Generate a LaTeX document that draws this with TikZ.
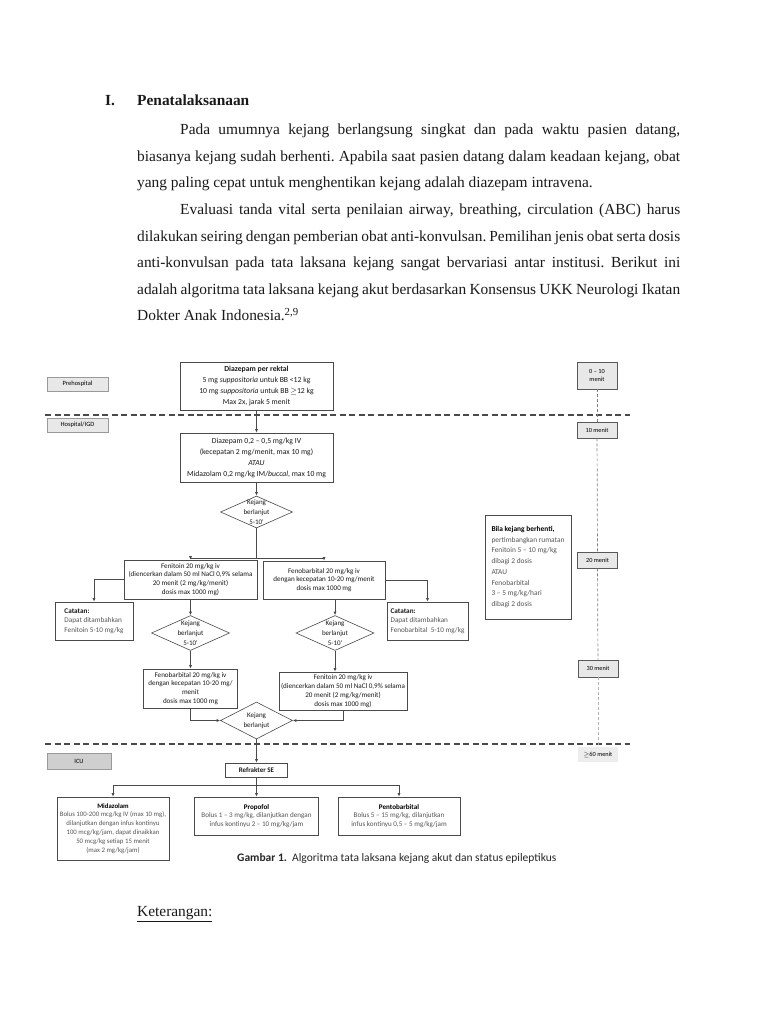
\documentclass[tikz,border=0pt]{standalone}
\usepackage{fontspec}
\setmainfont{Liberation Serif}
\newfontfamily\fc{Carlito}
\usetikzlibrary{shapes.geometric,arrows.meta}
\definecolor{lnc}{HTML}{4A4A4A}
\definecolor{tagfill}{HTML}{E8E8E8}
\definecolor{icufill}{HTML}{CFCFCF}
\definecolor{txtgray}{HTML}{555555}
\frenchspacing

\begin{document}
\begin{tikzpicture}[x=1pt, y=-1pt,
  every node/.style={inner sep=0pt},
  body/.style={anchor=base west, text=black!90, font=\fontsize{15.4}{18}\selectfont},
  fbox/.style={draw=lnc, line width=0.6pt, rectangle, align=center, fill=white, text=black!90},
  txtbig/.style={font=\fc\fontsize{7.7}{11}\selectfont},
  txtsmall/.style={font=\fc\fontsize{7.1}{8.8}\selectfont},
  notebox/.style={font=\fc\fontsize{7.2}{9.6}\selectfont, align=left},
  dia/.style={draw=lnc, line width=0.6pt, diamond, fill=white},
  dtext/.style={font=\fc\fontsize{7}{10}\selectfont, align=center, text=black!90},
  phasetag/.style={draw=gray!80, fill=tagfill, line width=0.6pt, minimum width=61, minimum height=14,
    font=\fc\fontsize{6.5}{8}\selectfont},
  timebox/.style={draw=gray!70!black, fill=tagfill, line width=0.6pt, minimum width=40, minimum height=16,
    align=center, font=\fc\fontsize{6.3}{8.5}\selectfont},
  arr/.style={draw=lnc, line width=0.7pt, -{Latex[length=3.5pt,width=3pt]}},
  plain/.style={draw=lnc, line width=0.7pt},
  sepline/.style={draw=lnc, line width=1.1pt, dash pattern=on 6pt off 3.5pt},
  tline/.style={draw=gray, line width=0.7pt, dash pattern=on 3pt off 2pt}]
\useasboundingbox (0,0) rectangle (768,1024);

% heading and paragraphs
\node[body] (hnum) at (105,106) {\textbf{I.}};
\node[body] (htitle) at (137,106) {\textbf{Penatalaksanaan}};
\node[body] (p1a) at (180,135) {\makebox[500pt][s]{Pada umumnya kejang berlangsung singkat dan pada waktu pasien datang,}};
\node[body] (p1b) at (137,161.5) {\makebox[543pt][s]{biasanya kejang sudah berhenti. Apabila saat pasien datang dalam keadaan kejang, obat}};
\node[body] (p1c) at (137,188) {yang paling cepat untuk menghentikan kejang adalah diazepam intravena.};
\node[body] (p2a) at (180,214.5) {\makebox[500pt][s]{Evaluasi tanda vital serta penilaian airway, breathing, circulation (ABC) harus}};
\node[body] (p2b) at (137,241) {\makebox[543pt][s]{dilakukan seiring dengan pemberian obat anti-konvulsan. Pemilihan jenis obat serta dosis}};
\node[body] (p2c) at (137,267.5) {\makebox[543pt][s]{anti-konvulsan pada tata laksana kejang sangat bervariasi antar institusi. Berikut ini}};
\node[body] (p2d) at (137,294) {\makebox[543pt][s]{adalah algoritma tata laksana kejang akut berdasarkan Konsensus UKK Neurologi Ikatan}};
\node[body] (p2e) at (137,320.5) {Dokter Anak Indonesia.\textsuperscript{2,9}};
\node[body] (ket) at (137,916) {\underline{Keterangan:}};

% phases
\node[phasetag] (pre) at (77.5,384) {Prehospital};
\node[phasetag] (hosp) at (77.5,425) {Hospital/IGD};
\node[phasetag, fill=icufill, minimum width=64, minimum height=16] (icu) at (79,761) {ICU};
\draw[sepline] (45,415) -- (630,415);
\draw[sepline] (45,744) -- (630,744);

% main column
\node[fbox, txtbig, minimum width=153, minimum height=48] (rektal) at (256.5,386)
  {\textbf{Diazepam per rektal}\\5 mg \textit{suppositoria} untuk BB <12 kg\\10 mg \textit{suppositoria} untuk BB $\geq$12 kg\\Max 2x, jarak 5 menit};
\node[fbox, txtbig, minimum width=153, minimum height=49] (iv) at (256.5,457.5)
  {Diazepam 0,2 – 0,5 mg/kg IV\\(kecepatan 2 mg/menit, max 10 mg)\\\textit{ATAU}\\Midazolam 0,2 mg/kg IM/\textit{buccal}, max 10 mg};
\node[dia, minimum width=72, minimum height=32, label={[dtext]center:{Kejang\\berlanjut\\5-10'}}] (d1) at (256.5,512) {};
\coordinate (j1) at (256.5,558);

\node[fbox, txtsmall, minimum width=133, minimum height=39] (fen1) at (190.5,579.5)
  {Fenitoin 20 mg/kg iv\\(diencerkan dalam 50 ml NaCl 0,9\% selama\\20 menit (2 mg/kg/menit)\\dosis max 1000 mg)};
\node[fbox, txtsmall, minimum width=122, minimum height=38] (feb1) at (324,580)
  {Fenobarbital 20 mg/kg iv\\dengan kecepatan 10-20 mg/menit\\dosis max 1000 mg};
\node[fbox, notebox, minimum width=78, minimum height=38] (cat1) at (94,621)
  {\textbf{Catatan:}\\\textcolor{txtgray}{Dapat ditambahkan}\\\textcolor{txtgray}{Fenitoin 5-10 mg/kg}};
\node[fbox, notebox, minimum width=81, minimum height=38] (cat2) at (427.5,621)
  {\textbf{Catatan:}\\\textcolor{txtgray}{Dapat ditambahkan}\\\textcolor{txtgray}{Fenobarbital\ \ 5-10 mg/kg}};

\node[dia, minimum width=78, minimum height=35, label={[dtext]center:{Kejang\\berlanjut\\5-10'}}] (d2) at (190.5,633) {};
\node[dia, minimum width=78, minimum height=35, label={[dtext]center:{Kejang\\berlanjut\\5-10'}}] (d3) at (335,633) {};

\node[fbox, txtsmall, minimum width=94, minimum height=39] (fb2) at (190.5,688.5)
  {Fenobarbital 20 mg/kg iv\\dengan kecepatan 10-20 mg/\\menit\\dosis max 1000 mg};
\node[fbox, txtsmall, minimum width=128, minimum height=38] (fn2) at (343,691)
  {Fenitoin 20 mg/kg iv\\(diencerkan dalam 50 ml NaCl 0,9\% selama\\20 menit (2 mg/kg/menit)\\dosis max 1000 mg)};
\node[dia, minimum width=72, minimum height=37, label={[dtext]center:{Kejang\\berlanjut}}] (d4) at (256.5,720.5) {};

\node[fbox, font=\fc\fontsize{7}{8}\selectfont\bfseries, minimum width=62, minimum height=14] (ref) at (256.5,770) {Refrakter SE};
\coordinate (j2) at (256.5,785);
\node[fbox, font=\fc\fontsize{6.8}{8.9}\selectfont, text=txtgray, minimum width=112, minimum height=63] (mid) at (113,828.5)
  {\textcolor{black}{\textbf{Midazolam}}\\Bolus 100-200 mcg/kg IV (max 10 mg),\\dilanjutkan dengan infus kontinyu\\100 mcg/kg/jam, dapat dinaikkan\\50 mcg/kg setiap 15 menit\\(max 2 mg/kg/jam)};
\node[fbox, txtsmall, text=txtgray, minimum width=124, minimum height=38] (pro) at (256.5,816)
  {\textcolor{black}{\textbf{Propofol}}\\Bolus 1 – 3 mg/kg, dilanjutkan dengan\\infus kontinyu 2 – 10 mg/kg/jam};
\node[fbox, txtsmall, text=txtgray, minimum width=122, minimum height=38] (pen) at (399,816)
  {\textcolor{black}{\textbf{Pentobarbital}}\\Bolus 5 – 15 mg/kg, dilanjutkan\\infus kontinyu 0,5 – 5 mg/kg/jam};

\node[anchor=west, font=\fc\fontsize{11.5}{13}\selectfont, text=black!85] (cap) at (237,858)
  {\textbf{Gambar 1.}\ \ Algoritma tata laksana kejang akut dan status epileptikus};

% maintenance note and time line
\node[fbox, notebox, text=txtgray, font=\fc\fontsize{7.4}{10.7}\selectfont, minimum width=86, minimum height=104] (rum) at (528,567)
  {\textcolor{black}{\textbf{Bila kejang berhenti,}}\\pertimbangkan rumatan\\Fenitoin 5 – 10 mg/kg\\dibagi 2 dosis\\ATAU\\Fenobarbital\\3 – 5 mg/kg/hari\\dibagi 2 dosis};
\node[timebox, minimum height=27] (t0) at (597,375.5) {0 – 10\\menit};
\node[timebox] (t10) at (597,430) {10 menit};
\node[timebox] (t20) at (597.5,560) {20 menit};
\node[timebox, minimum height=17] (t30) at (598,668.5) {30 menit};
\node[timebox, draw=none, fill=tagfill!80, minimum height=15] (t60) at (598,754.5) {$\geq$60 menit};

% connectors
\draw[arr] (rektal) -- (iv);
\draw[arr] (iv) -- (d1);
\draw[plain] (d1.south) -- (j1);
\draw[arr] (j1) -| (fen1.north);
\draw[arr] (j1) -| (feb1.north);
\draw[arr] (fen1.west) -| (cat1.north);
\draw[arr] (feb1.east) -| (cat2.north);
\draw[arr] (fen1.south) -- (d2.north);
\draw[arr] (feb1.south -| d3.north) -- (d3.north);
\draw[arr] (d2.south) -- (d2.south |- fb2.north);
\draw[arr] (d3.south) -- (d3.south |- fn2.north);
\draw[arr] (fb2.south) |- (d4.west);
\draw[arr] (fn2.south) |- (d4.east);
\draw[arr] (d4) -- (ref);
\draw[plain] (ref.south) -- (j2);
\draw[arr] (j2) -| (mid.north);
\draw[arr] (j2) -| (pen.north);
\draw[arr] (j2) -- (pro.north);
\draw[tline] (t0) -- (t10);
\draw[tline] (t10) -- (t20);
\draw[tline] (t20) -- (t30);
\draw[tline, draw=gray!60] (t30) -- (t60);
\end{tikzpicture}
\end{document}
